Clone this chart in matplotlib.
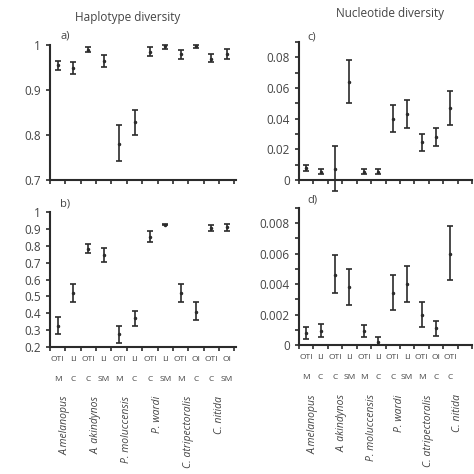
import matplotlib
matplotlib.use("Agg")
import matplotlib.pyplot as plt
import numpy as np

plt.rcParams['font.family'] = ['Open Sans', 'DejaVu Sans']
C = '#2b2b2b'
TC = '#444444'

hap_mean = [0.955, 0.950, 0.990, 0.965, 0.780, 0.828, 0.985, 0.997, 0.980, 0.998, 0.970, 0.980]
hap_low  = [0.945, 0.935, 0.985, 0.952, 0.742, 0.800, 0.975, 0.992, 0.970, 0.993, 0.962, 0.968]
hap_high = [0.965, 0.963, 0.995, 0.978, 0.822, 0.855, 0.995, 1.000, 0.990, 1.000, 0.980, 0.992]

hapb_mean = [0.325, 0.520, 0.780, 0.745, 0.275, 0.370, 0.850, 0.925, 0.520, 0.410, 0.905, 0.910]
hapb_low  = [0.280, 0.465, 0.760, 0.705, 0.225, 0.325, 0.825, 0.922, 0.465, 0.360, 0.885, 0.890]
hapb_high = [0.375, 0.575, 0.810, 0.785, 0.325, 0.415, 0.885, 0.928, 0.575, 0.465, 0.925, 0.930]

nuc_mean = [0.008, 0.005, 0.007, 0.064, 0.005, 0.005, 0.040, 0.043, 0.025, 0.028, 0.047]
nuc_low  = [0.006, 0.004, -0.007, 0.050, 0.004, 0.004, 0.031, 0.034, 0.019, 0.022, 0.036]
nuc_high = [0.010, 0.007, 0.022, 0.078, 0.007, 0.007, 0.049, 0.052, 0.030, 0.034, 0.058]

nucb_mean = [0.0008, 0.0009, 0.0046, 0.0038, 0.0009, 0.0002, 0.0034, 0.0040, 0.0020, 0.0011, 0.0060]
nucb_low  = [0.0004, 0.0005, 0.0034, 0.0026, 0.0005, 0.0000, 0.0023, 0.0028, 0.0012, 0.0006, 0.0043]
nucb_high = [0.0012, 0.0014, 0.0059, 0.0050, 0.0013, 0.0005, 0.0046, 0.0052, 0.0028, 0.0016, 0.0078]

top_labels = ['OTI', 'LI', 'OTI', 'LI', 'OTI', 'LI', 'OTI', 'LI', 'OTI', 'OI', 'OTI', 'OI']
mid_labels = ['M', 'C', 'C', 'SM', 'M', 'C', 'C', 'SM', 'M', 'C', 'C', 'SM']
species = ['A.melanopus', 'A. akindynos', 'P. moluccensis', 'P. wardi', 'C. atripectoralis', 'C. nitida']

fig = plt.figure(figsize=(4.74, 4.74), dpi=100)
W = 474.0

def mk(x0, x1, ytop, ybot):
    return fig.add_axes([x0 / W, 1 - ybot / W, (x1 - x0) / W, (ybot - ytop) / W])

def draw(ax, mean, low, high, xlim, ylim, yticks, ylabels, minor=None):
    x = np.arange(1, len(mean) + 1)
    m = np.array(mean); lo = np.array(low); hi = np.array(high)
    ax.errorbar(x, m, yerr=[m - lo, hi - m], fmt='o', ms=1.5, color=C,
                ecolor=C, elinewidth=1.2, capsize=2.5, capthick=1.2, clip_on=False)
    ax.set_xlim(*xlim); ax.set_ylim(*ylim)
    for s in ['top', 'right']:
        ax.spines[s].set_visible(False)
    for s in ['left', 'bottom']:
        ax.spines[s].set_linewidth(1.5); ax.spines[s].set_color(C)
    ax.set_yticks(yticks); ax.set_yticklabels(ylabels, fontsize=8.5, color=TC)
    if minor is not None:
        ax.set_yticks(minor, minor=True)
    ax.set_xticks(np.arange(0.5, 13, 1))
    ax.set_xticklabels([])
    ax.tick_params(axis='both', which='both', length=3, width=1.2, color=C)

def xlabels(ax, n):
    for i in range(n):
        ax.text(i + 1, -0.09, top_labels[i], transform=ax.get_xaxis_transform(),
                ha='center', va='center', fontsize=6, color=TC, clip_on=False)
        ax.text(i + 1, -0.24, mid_labels[i], transform=ax.get_xaxis_transform(),
                ha='center', va='center', fontsize=6, color=TC, clip_on=False)
    for j, sp in enumerate(species):
        ax.text(2 * j + 1.5, -0.36, sp, transform=ax.get_xaxis_transform(),
                ha='center', va='top', rotation=90, fontsize=7.5, style='italic',
                color=TC, clip_on=False)

# left panels
axa = mk(50, 236, 45, 180)
draw(axa, hap_mean, hap_low, hap_high, (0.5, 12.6), (0.7, 1.0),
     [0.7, 0.8, 0.9, 1.0], ['0.7', '0.8', '0.9', '1'])
axb = mk(50, 236, 212, 347)
draw(axb, hapb_mean, hapb_low, hapb_high, (0.5, 12.6), (0.2, 1.0),
     np.arange(0.2, 1.01, 0.1), ['0.2', '0.3', '0.4', '0.5', '0.6', '0.7', '0.8', '0.9', '1'])
xlabels(axb, 12)

# right panels
axc = mk(299, 472, 42, 180)
draw(axc, nuc_mean, nuc_low, nuc_high, (0.5, 11.75), (0, 0.09),
     [0, 0.02, 0.04, 0.06, 0.08], ['0', '0.02', '0.04', '0.06', '0.08'],
     minor=np.arange(0, 0.091, 0.01))
axd = mk(299, 472, 208, 345)
draw(axd, nucb_mean, nucb_low, nucb_high, (0.5, 11.75), (0, 0.009),
     [0, 0.002, 0.004, 0.006, 0.008], ['0', '0.002', '0.004', '0.006', '0.008'],
     minor=np.arange(0, 0.0091, 0.001))
xlabels(axd, 11)

fig.text(128 / W, 1 - 18 / W, 'Haplotype diversity', ha='center', va='center', fontsize=8.5, color=TC)
fig.text(390 / W, 1 - 14 / W, 'Nucleotide diversity', ha='center', va='center', fontsize=8.5, color=TC)
fig.text(60 / W, 1 - 36 / W, 'a)', fontsize=8, color=TC, va='center')
fig.text(60 / W, 1 - 204 / W, 'b)', fontsize=8, color=TC, va='center')
fig.text(307 / W, 1 - 37 / W, 'c)', fontsize=8, color=TC, va='center')
fig.text(307 / W, 1 - 200 / W, 'd)', fontsize=8, color=TC, va='center')

fig.savefig('out.png', dpi=100)
